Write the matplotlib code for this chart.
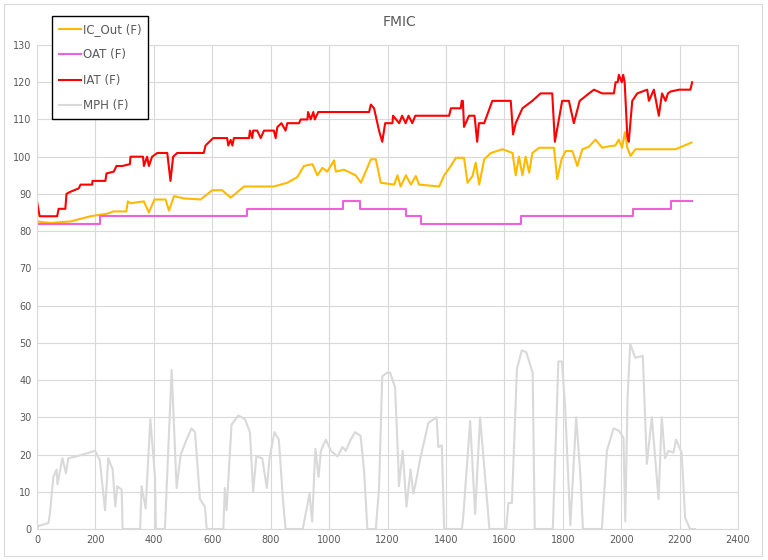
import matplotlib.pyplot as plt
from matplotlib.lines import Line2D
from matplotlib.patches import Rectangle

# breakpoints (x, value)
iat_x = [0, 9, 69, 74, 97, 101, 112, 143, 149, 189, 190, 234, 238, 263, 272, 292, 318, 320,
         363, 366, 377, 383, 394, 412, 446, 457, 466, 480, 571, 577, 603, 651, 655, 663, 669,
         674, 726, 729, 737, 740, 754, 766, 777, 811, 817, 823, 837, 851, 857, 897, 903, 926,
         928, 937, 946, 951, 963, 1137, 1143, 1154, 1171, 1182, 1192, 1217, 1219, 1240, 1250,
         1262, 1272, 1285, 1295, 1343, 1411, 1417, 1451, 1454, 1458, 1462, 1479, 1498, 1507,
         1513, 1531, 1559, 1622, 1630, 1639, 1662, 1696, 1724, 1764, 1773, 1789, 1798, 1821,
         1838, 1858, 1890, 1907, 1935, 1975, 1981, 1988, 1992, 2002, 2007, 2012, 2021, 2026,
         2038, 2055, 2089, 2095, 2112, 2129, 2140, 2152, 2160, 2169, 2198, 2237, 2243]
iat_y = [88, 84, 84, 86, 86, 90, 90.5, 91.5, 92.5, 92.5, 93.5, 93.5, 95.5, 96, 97.5, 97.5, 98,
         100, 100, 97.5, 100, 97.5, 100, 101, 101, 93.5, 100, 101, 101, 103, 105, 105, 103,
         104.5, 103, 105, 105, 107, 105, 107, 107, 105, 107, 107, 105, 108, 109, 107, 109, 109,
         110, 110, 112, 110, 112, 110, 112, 112, 114, 113, 107, 104, 109, 109, 111, 109, 111,
         109, 111, 109, 111, 111, 111, 113, 113, 115, 115, 108, 111, 111, 104, 109, 109, 115,
         115, 106, 109, 113, 115, 117, 117, 104, 111, 115, 115, 109, 115, 117, 118, 117, 117,
         120, 120, 122, 120, 122, 120, 105.5, 104, 115, 117, 118, 115, 118, 111, 117, 115, 117,
         117.5, 118, 118, 120]

ic_x = [0, 46, 114, 183, 240, 263, 306, 311, 320, 366, 383, 402, 440, 452, 469, 503, 560, 600,
        634, 663, 686, 709, 811, 857, 891, 914, 943, 960, 977, 994, 1017, 1023, 1051, 1091, 1109,
        1120, 1143, 1160, 1177, 1223, 1234, 1245, 1263, 1280, 1297, 1308, 1377, 1394, 1417, 1434,
        1462, 1474, 1491, 1502, 1514, 1531, 1554, 1594, 1628, 1639, 1650, 1662, 1673, 1685, 1696,
        1719, 1770, 1781, 1796, 1810, 1833, 1850, 1867, 1890, 1912, 1935, 1958, 1980, 1992, 2003,
        2013, 2021, 2032, 2049, 2117, 2186, 2241]
ic_y = [82.6, 82.2, 82.6, 84, 84.7, 85.3, 85.3, 88, 87.5, 88, 85, 88.5, 88.5, 85.5, 89.4, 88.8,
        88.5, 91, 91, 89, 90.5, 92, 92, 93, 94.5, 97.5, 98, 95, 97, 96, 99, 96, 96.5, 95, 93,
        95, 99.3, 99.3, 93, 92.5, 95, 92, 95, 92.5, 94.8, 92.5, 92, 95, 97.5, 99.7, 99.7, 93,
        94.8, 98.4, 92.5, 99.3, 101, 102, 101, 95, 100, 95, 100, 95.7, 101, 102.4, 102.4, 94,
        99.3, 101.5, 101.5, 97.5, 102, 102.7, 104.6, 102.4, 102.8, 103, 104.6, 102.4, 106.6,
        102.4, 100.2, 102, 102, 102, 103.8]

oat_x = [0, 215, 720, 1049, 1106, 1263, 1316, 1656, 2041, 2172, 2243]
oat_y = [82, 84, 86, 88, 86, 84, 82, 84, 86, 88, 88]

mph_x = [0, 5, 39, 44, 56, 67, 70, 87, 99, 107, 135, 199, 215, 233, 244, 259, 268, 275, 290,
         293, 353, 358, 372, 388, 404, 407, 438, 461, 478, 492, 512, 529, 541, 558, 575, 581,
         638, 643, 649, 666, 689, 712, 729, 740, 751, 771, 787, 796, 813, 828, 842, 851, 910,
         933, 942, 953, 964, 972, 989, 1006, 1029, 1046, 1057, 1074, 1089, 1108, 1120, 1131,
         1160, 1171, 1182, 1199, 1209, 1226, 1237, 1239, 1252, 1265, 1279, 1288, 1297, 1311,
         1340, 1368, 1374, 1386, 1394, 1455, 1460, 1483, 1500, 1517, 1549, 1606, 1614, 1626,
         1643, 1660, 1675, 1697, 1704, 1766, 1785, 1797, 1808, 1826, 1846, 1860, 1869, 1934,
         1951, 1974, 1991, 2008, 2014, 2022, 2031, 2048, 2074, 2088, 2105, 2128, 2139, 2150,
         2162, 2179, 2188, 2207, 2219, 2236, 2253]
mph_y = [0, 0.8, 1.6, 3.9, 14, 16, 12, 19, 15, 19, 19.5, 21, 18.5, 5, 19, 16, 6, 11.5, 10.5, 0,
         0, 11.5, 5.5, 29.5, 14, 0, 0, 42.7, 11, 20, 24, 27, 26, 8, 6, 0, 0, 11, 5, 28, 30.5,
         29.5, 26, 10, 19.5, 19, 11, 19, 26, 24, 8, 0, 0, 9.5, 2, 21.5, 14, 21, 24, 21, 19.5,
         22, 21, 24, 26, 25, 15.5, 0, 0, 11, 41, 42, 42, 38, 17.5, 11.5, 21, 6, 16, 9.5, 12.5,
         18.5, 28.5, 30, 22, 22.5, 0, 0, 4, 29, 4, 30, 0, 0, 7, 7, 43, 48, 47.5, 42, 0, 0, 45,
         45, 33, 1, 30, 15, 0, 0, 21, 27, 26.5, 24.5, 2, 35.5, 49.7, 46, 46.5, 17.5, 30, 8, 30,
         19, 21, 20.5, 24, 20.5, 3, 0, 0]

labels = ['IC_Out (F)', 'OAT (F)', 'IAT (F)', 'MPH (F)']
colors = ['#FFB900', '#F060DC', '#FF0000', '#D9D9D9']

fig = plt.figure(figsize=(7.68, 5.6), dpi=100)
# thin outer chart border
fig.add_artist(Rectangle((4/768, 4/560), 758/768, 552/560, transform=fig.transFigure,
                         fill=False, edgecolor='#D9D9D9', linewidth=0.8))
ax = fig.add_axes([37/768, 1-529/560, 701/768, 484/560])

ax.plot(ic_x, ic_y, color=colors[0], linewidth=1.5)
ax.plot(oat_x, oat_y, color=colors[1], linewidth=1.5, drawstyle='steps-post')
ax.plot(iat_x, iat_y, color=colors[2], linewidth=1.5)
ax.plot(mph_x, mph_y, color=colors[3], linewidth=1.5)

ax.set_xlim(0, 2400)
ax.set_ylim(0, 130)
ax.set_xticks(range(0, 2401, 200))
ax.set_yticks(range(0, 131, 10))
ax.grid(True, color='#D9D9D9', linewidth=0.8)
ax.set_axisbelow(True)
for s in ax.spines.values():
    s.set_color('#D9D9D9')
ax.tick_params(length=0, labelsize=7, colors='#595959', pad=4)

fig.text(0.52, 1-22/560, 'FMIC', ha='center', va='center', fontsize=10, color='#595959')

handles = [Line2D([], [], color=c, linewidth=1.5) for c in colors]
leg = fig.legend(handles, labels, loc='upper left', bbox_to_anchor=(46/768, 1-10/560),
                 fontsize=8.5, frameon=True, fancybox=False, labelspacing=1.05,
                 handlelength=1.9, handletextpad=0.1, borderpad=0.6, labelcolor='#595959',
                 framealpha=1)
leg.get_frame().set_edgecolor('black')
leg.get_frame().set_linewidth(1.0)

fig.savefig('out.png', dpi=100)
